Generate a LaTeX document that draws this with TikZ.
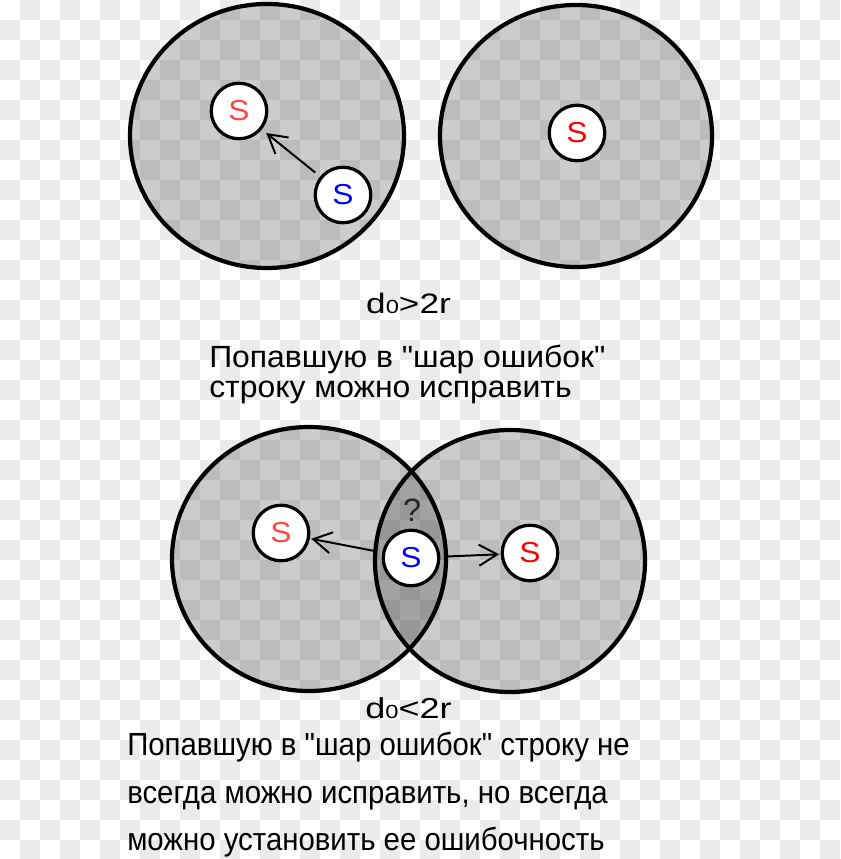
\documentclass[tikz,border=0pt]{standalone}
\usepackage{fontspec}
\setmainfont{Liberation Sans}
\newfontfamily\wideface[FakeStretch=1.04]{Liberation Sans}
\newfontfamily\narrowface[FakeStretch=0.92]{Liberation Sans}
\newfontfamily\labelface[FakeStretch=1.25]{Liberation Sans}
\newfontfamily\letterface[FakeStretch=1.1]{Liberation Sans}
\usetikzlibrary{arrows.meta}
\definecolor{checkgray}{RGB}{235,235,235}
\definecolor{softred}{RGB}{255,70,70}
\tikzset{
  ball/.style={line width=3pt},
  ballfill/.style={fill=black, fill opacity=0.2},
  word/.style={circle, draw, fill=white, line width=2.3pt, minimum size=39.5pt,
    inner sep=0pt, font=\letterface\fontsize{20.5}{20.5}\selectfont},
  decode/.style={line width=1.4pt, -{Straight Barb[length=13pt,width=15pt]}},
  caption/.style={anchor=base west, inner sep=0pt}
}
\newcommand{\dzero}{d{\fontsize{13.5}{13.5}\selectfont 0}}

\begin{document}
\begin{tikzpicture}[x=0.025cm, y=-0.025cm]
    \useasboundingbox (0,0) rectangle (840,859);
    % checkerboard background
    \begin{scope}
        \clip (0,0) rectangle (840,859);
        \foreach \i in {0,...,41}
            \foreach \j in {0,...,42} {
                \pgfmathtruncatemacro\cellodd{mod(\i+\j,2)}
                \ifnum\cellodd=1 \fill[checkgray] (20*\i,20*\j) rectangle ++(20,20); \fi
            }
    \end{scope}

    % error balls, far apart
    \fill[ballfill] (267,136) ellipse [x radius=137, y radius=132];
    \fill[ballfill] (576,136) ellipse [x radius=136, y radius=131];
    \draw[ball] (267,136) ellipse [x radius=137, y radius=132];
    \draw[ball] (576,136) ellipse [x radius=136, y radius=131];

    \node[word, text=softred] (okA) at (239,111) {S};
    \node[word, text=blue]    (errA) at (343,195) {S};
    \node[word, text=red]     (okB) at (577,133) {S};
    \draw[decode, shorten <=4.5pt, shorten >=4pt] (errA) -- (okA);

    % captions, upper part
    \node[anchor=base, inner sep=0pt, font=\labelface\fontsize{20}{20}\selectfont] (farlabel) at (408.5,313) {\dzero>2r};
    \node[caption, font=\wideface\fontsize{21.8}{22}\selectfont] (farA) at (209,367) {Попавшую в "шар ошибок"};
    \node[caption, font=\wideface\fontsize{21.8}{22}\selectfont] (farB) at (209,397) {строку можно исправить};

    % error balls, overlapping
    \fill[ballfill] (309,559) ellipse [x radius=137, y radius=132];
    \fill[ballfill] (510,561) ellipse [x radius=135, y radius=131];
    \draw[ball] (309,559) ellipse [x radius=137, y radius=132];
    \draw[ball] (510,561) ellipse [x radius=135, y radius=131];

    \node[anchor=base, inner sep=0pt, text=black!85, font=\fontsize{23}{23}\selectfont] (doubt) at (412,521.7) {?};
    \node[word, text=softred] (wordL) at (281,533) {S};
    \node[word, text=blue]    (recv) at (411,558) {S};
    \node[word, text=red]     (wordR) at (530,553) {S};
    \draw[decode, shorten <=4pt, shorten >=1pt] (recv) -- (wordL);
    \draw[decode, shorten <=3pt, shorten >=1pt] (recv) -- (wordR);

    % captions, lower part
    \node[anchor=base, inner sep=0pt, font=\labelface\fontsize{20.5}{20.5}\selectfont] (nearlabel) at (408.5,718) {\dzero<2r};
    \node[caption, font=\narrowface\fontsize{22.7}{23}\selectfont] (nearA) at (127,755) {Попавшую в "шар ошибок" строку не};
    \node[caption, font=\narrowface\fontsize{22.7}{23}\selectfont] (nearB) at (127,803) {всегда можно исправить, но всегда};
    \node[caption, font=\narrowface\fontsize{22.7}{23}\selectfont] (nearC) at (127,850) {можно установить ее ошибочность};
\end{tikzpicture}
\end{document}
